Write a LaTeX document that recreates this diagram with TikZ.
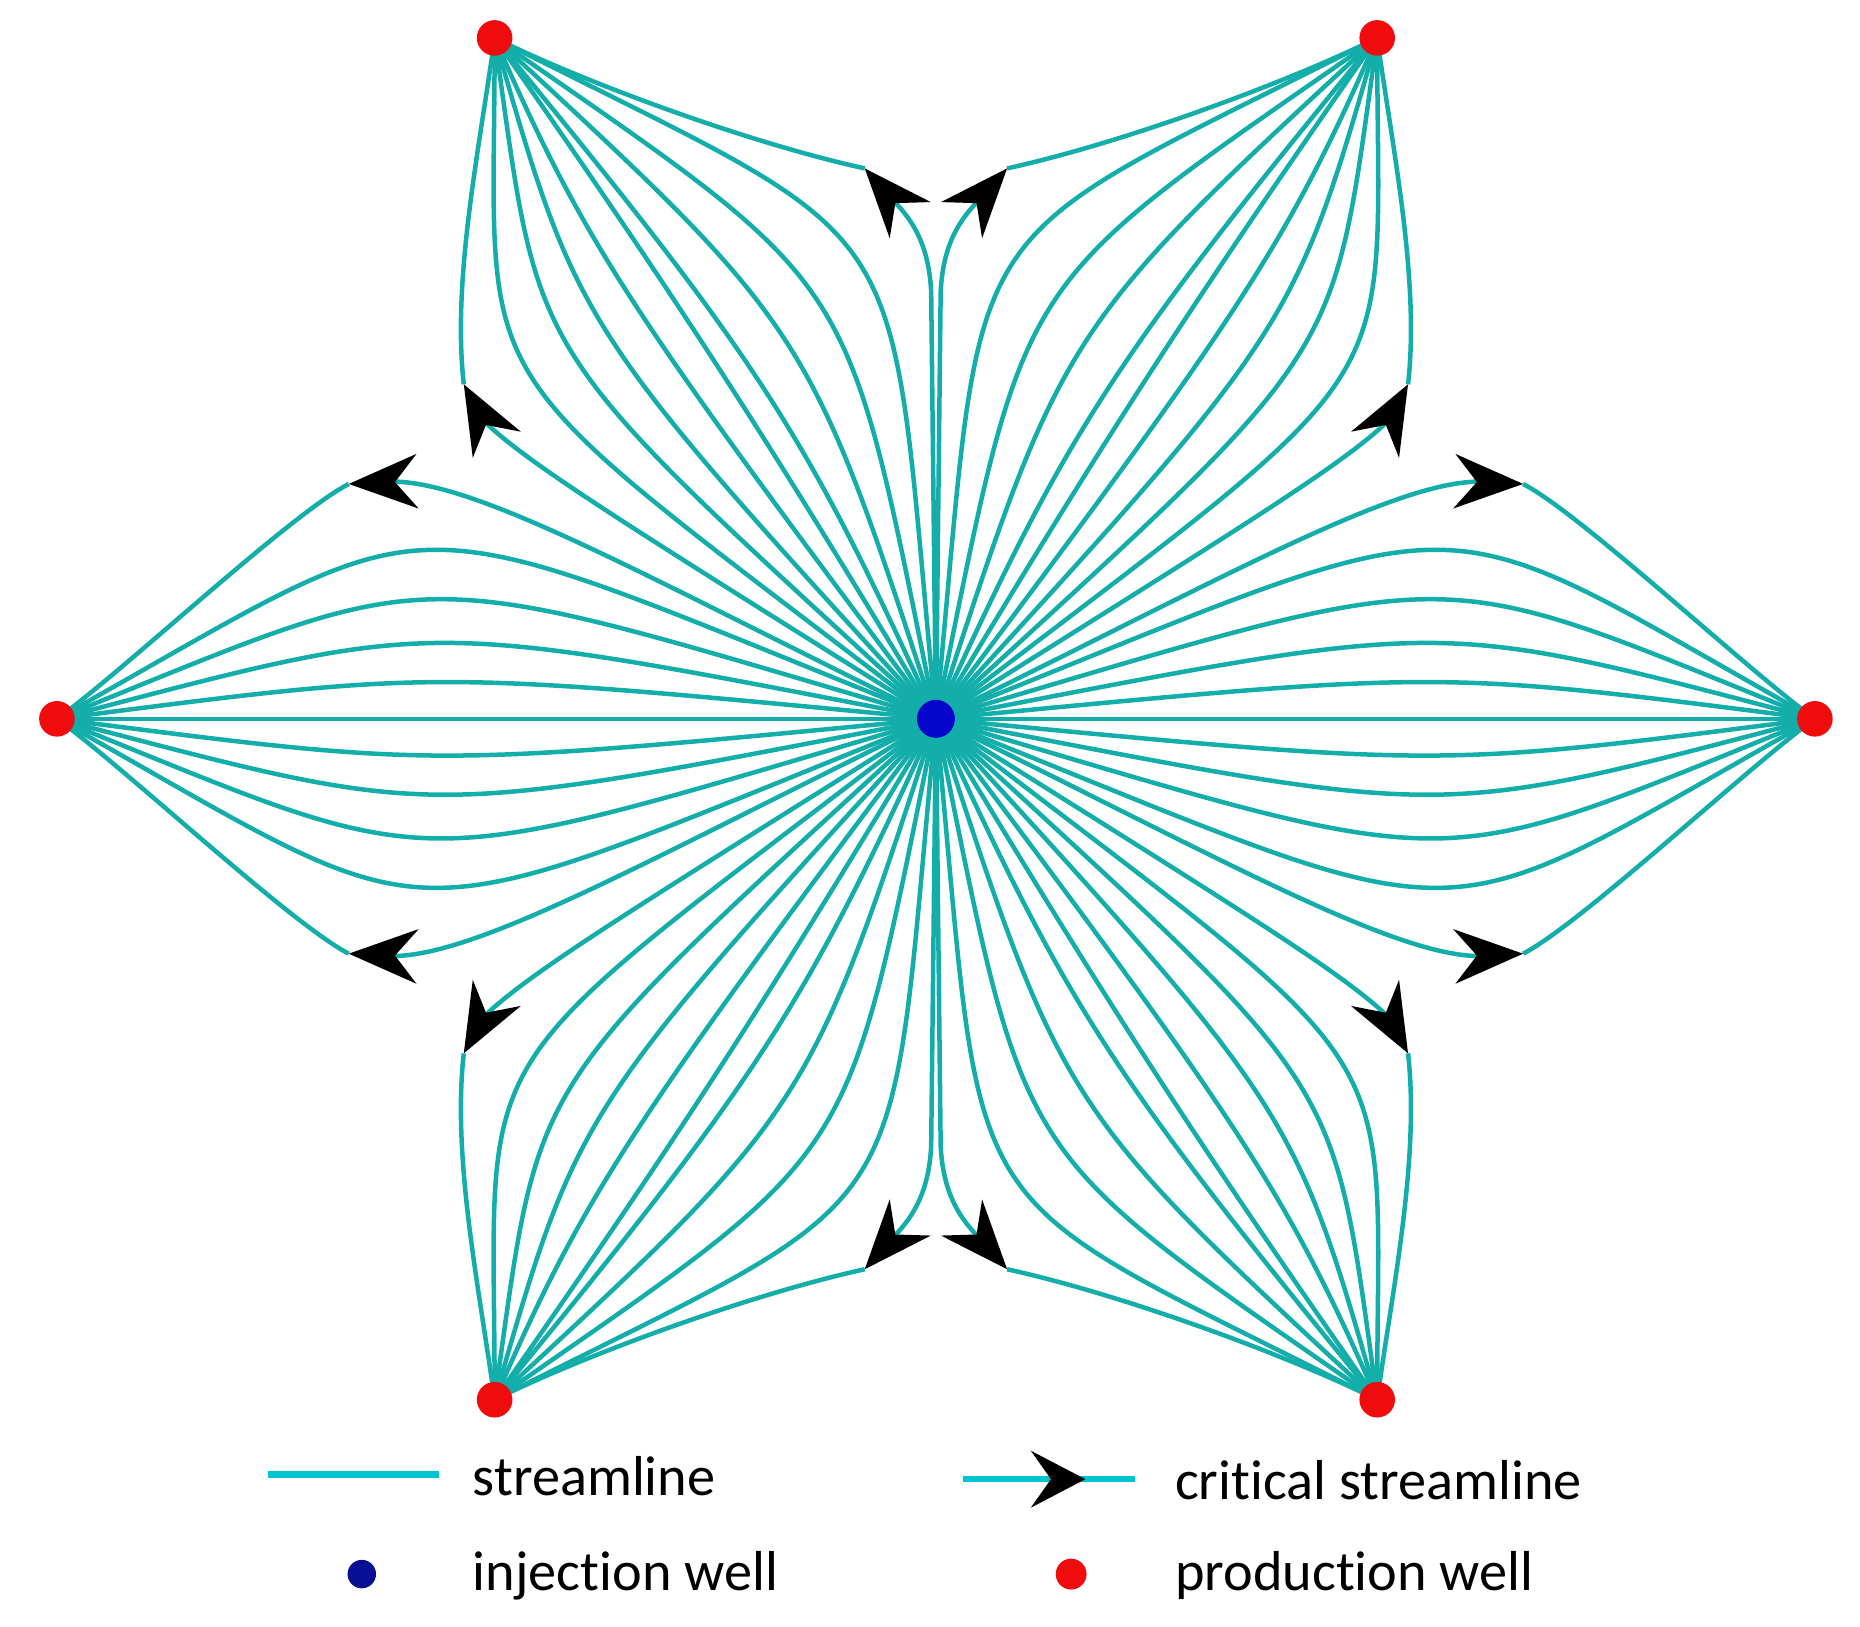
\documentclass[tikz,border=0pt]{standalone}
\usepackage{fontspec}
\setmainfont{Carlito}[Ligatures=NoCommon]
\usetikzlibrary{calc,arrows.meta}
\definecolor{sline}{RGB}{20,174,170}
\definecolor{lgcyan}{RGB}{0,196,210}
\definecolor{pred}{RGB}{240,12,12}
\definecolor{iblue}{RGB}{6,6,205}
\definecolor{lgblue}{RGB}{8,16,150}

\begin{document}
\begin{tikzpicture}[x=0.1mm,y=0.1mm,
  sl/.style={draw=sline,line width=0.38mm},
  critarrow/.style={black,line width=0.2mm,-{Stealth[length=5.8mm,width=4.6mm,inset=1.9mm]}},
  prod/.style={circle,fill=pred,inner sep=0pt,minimum size=3mm},
  inj/.style={circle,fill=iblue,inner sep=0pt,minimum size=3.2mm},
  lab/.style={anchor=base west,inner sep=0pt,font=\fontsize{13.5}{16}\selectfont}]
\useasboundingbox (-789,-765) rectangle (779,606);
\coordinate (c) at (0,0);

% one quarter of the pattern, mirrored four times
\foreach \sx/\sy in {1/1,-1/1,1/-1,-1/-1}{
\begin{scope}[xscale=\sx,yscale=\sy]
  \coordinate (tw) at (-372,574);
  \coordinate (lw) at (-741,0);
  % fan to the top well
  \foreach \t/\p/\k in {142.5/-90/1.1, 137.5/-82/1.05, 132.5/-74/1, 127/-66.4/.9, 121/-55/.8,
                        114.5/-50.6/.9, 108/-42.7/1, 101.5/-34.8/1.05, 95.5/-26.9/1.1}{
    \pgfmathsetmacro\alp{122.95-\t}
    \pgfmathsetmacro\bet{\p+57.05}
    \pgfmathsetmacro\hc{\k*684*sin(\bet)/sin(\alp+\bet)}
    \pgfmathsetmacro\hw{\k*684*sin(\alp)/sin(\alp+\bet)}
    \draw[sl] (c) .. controls (\t:\hc) and ($(tw)+(\p:\hw)$) .. (tw);
  }
  % fan to the side well
  \foreach \t/\p/\k in {174.55/7.3/1.02, 169.1/14.6/1.04, 163.65/21.9/1.07, 158.2/29.2/1.1}{
    \pgfmathsetmacro\alp{180-\t}
    \pgfmathsetmacro\hc{\k*741*sin(\p)/sin(\alp+\p)}
    \pgfmathsetmacro\hw{\k*741*sin(\alp)/sin(\alp+\p)}
    \draw[sl] (c) .. controls (\t:\hc) and ($(lw)+(\p:\hw)$) .. (lw);
  }
  \draw[sl] (c) -- (lw);
  % critical streamlines
  \draw[sl] (c) -- (-4,360) .. controls (-6,400) and (-20,420) .. (-34,435);
  \draw[sl] (-60,464) .. controls (-160,486) and (-300,538) .. (tw);
  \draw[sl] (c) .. controls (-250,157) and (-340,212) .. (-380,250);
  \draw[sl] (-398,282) .. controls (-408,370) and (-385,480) .. (tw);
  \draw[sl] (c) .. controls (-230,112) and (-380,198) .. (-456,200);
  \draw[sl] (-495,198) .. controls (-545,172) and (-685,40) .. (lw);
  \draw[critarrow] (-53.4,456.5) -- (-60,464);
  \draw[critarrow] (-393.2,273.2) -- (-398,282);
  \draw[critarrow] (-485,198.4) -- (-495,198);
\end{scope}}

% wells
\foreach \n/\x/\y in {1/-372/574, 2/372/574, 3/-741/0, 4/741/0, 5/-372/-574, 6/372/-574}
  \node[prod] (p\n) at (\x,\y) {};
\node[inj] (iw) at (c) {};

% legend
\coordinate (sa) at (-563,-637);
\coordinate (sb) at (-419,-637);
\draw[lgcyan,line width=0.55mm] (sa) -- (sb);
\node[lab] (ls) at (-391,-655) {streamline};
\coordinate (ca) at (23,-641);
\coordinate (cb) at (168,-641);
\draw[lgcyan,line width=0.55mm] (ca) -- (cb);
\draw[black,-{Stealth[length=4.6mm,width=4.8mm,inset=1.7mm]}] (116,-641) -- (126,-641);
\node[lab] (lc) at (201,-658) {critical streamline};
\node[circle,fill=lgblue,inner sep=0pt,minimum size=2.4mm] (li) at (-484,-721) {};
\node[lab] (lit) at (-391,-735) {injection well};
\node[circle,fill=pred,inner sep=0pt,minimum size=2.6mm] (lp) at (114,-721) {};
\node[lab] (lpt) at (201,-735) {production well};
\end{tikzpicture}
\end{document}
